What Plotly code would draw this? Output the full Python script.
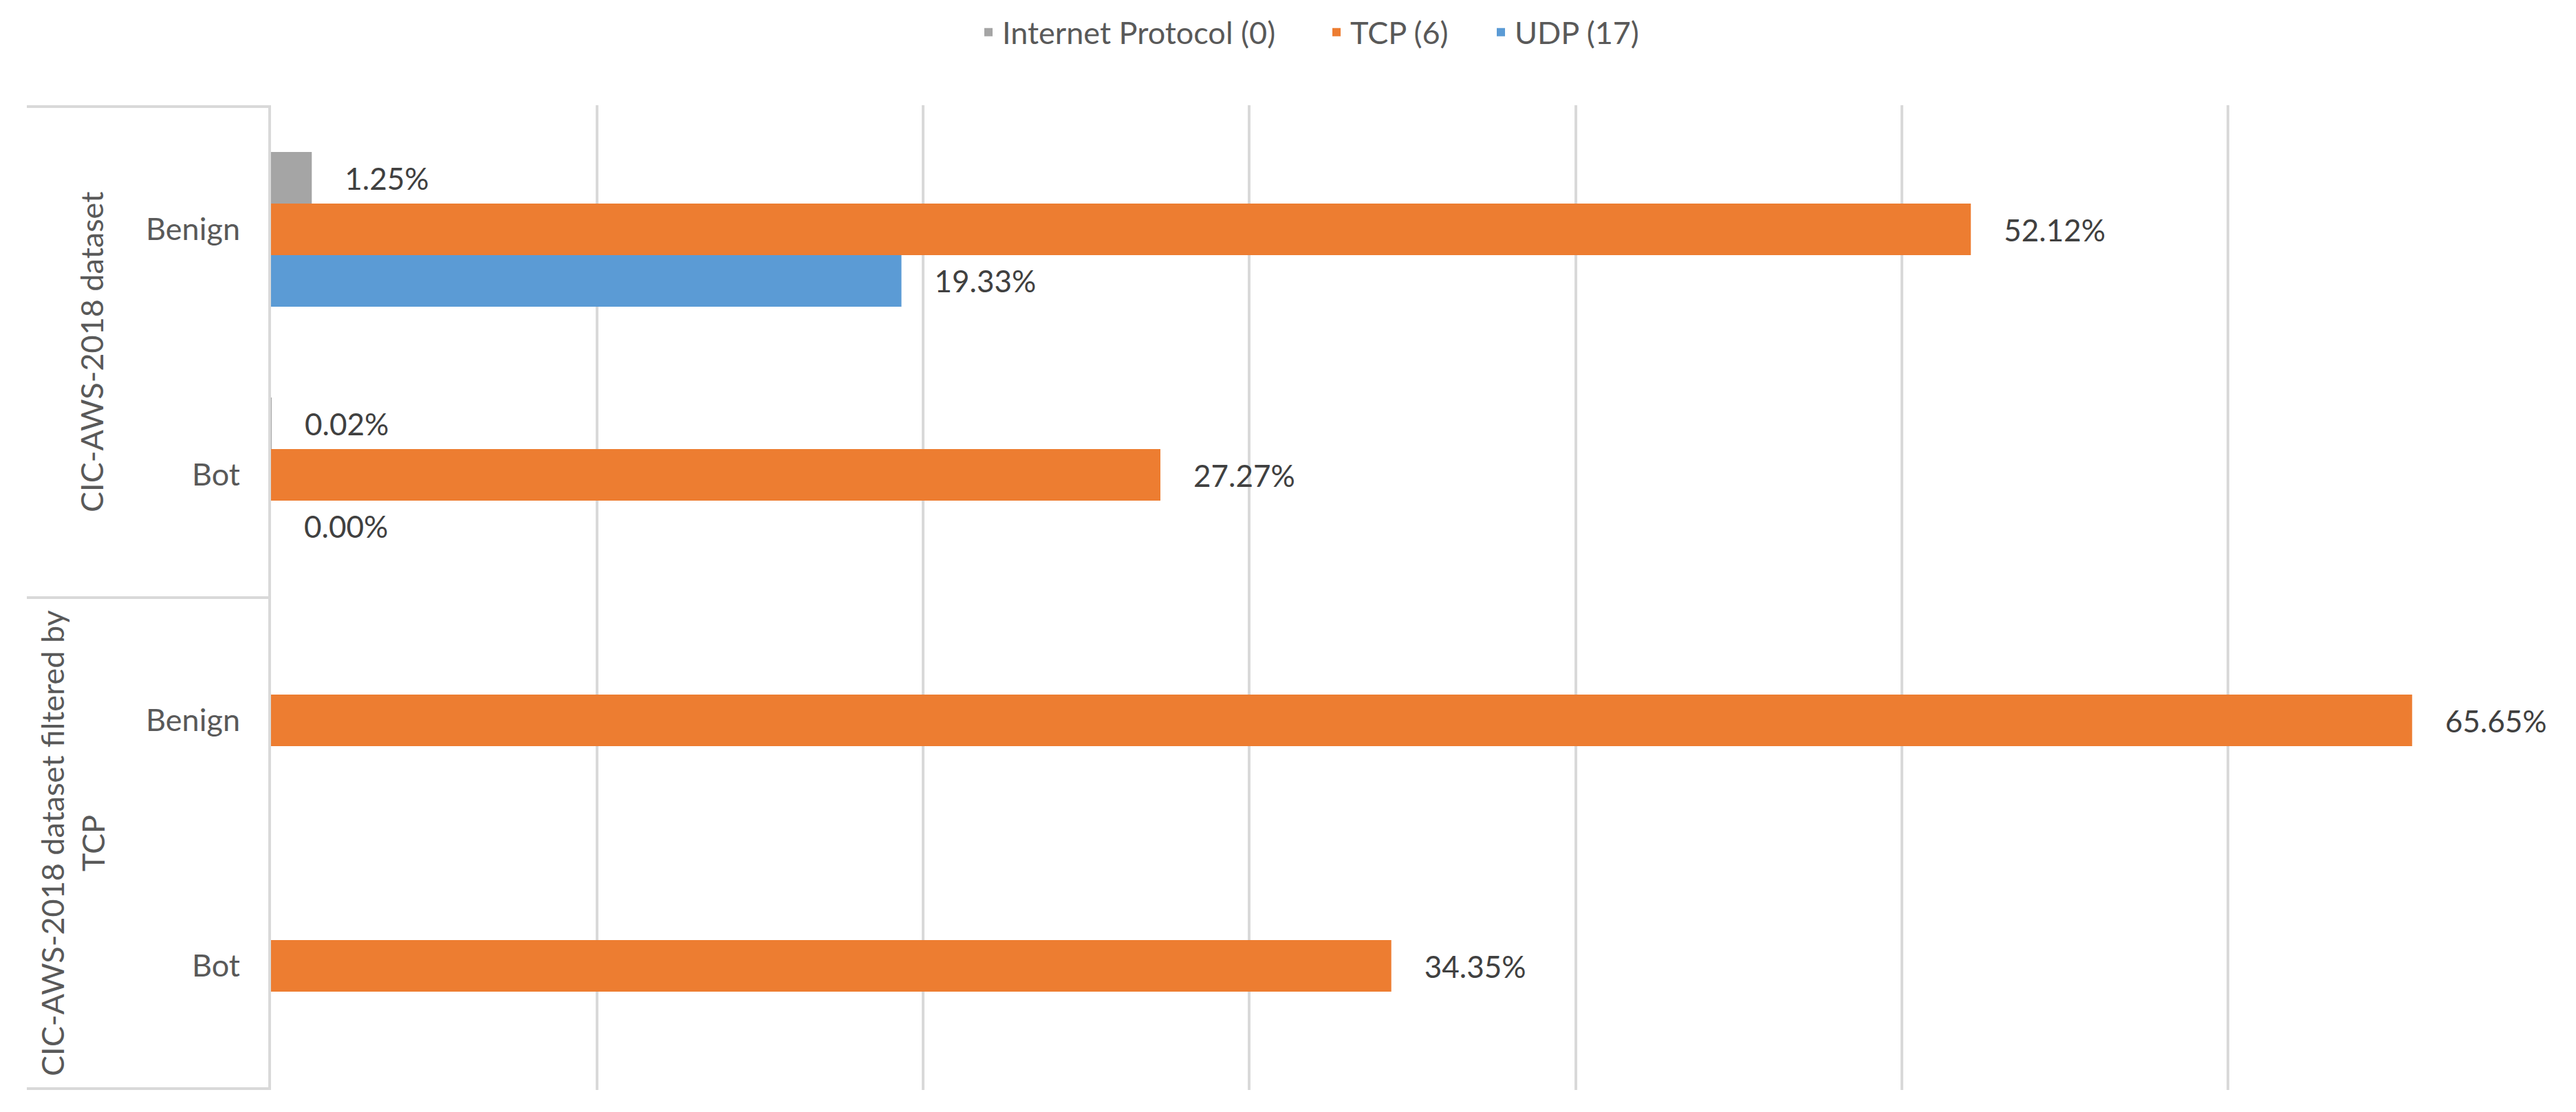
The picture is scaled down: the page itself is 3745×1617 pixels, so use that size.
import plotly.graph_objects as go

# ---------------- data ----------------
groups = ["CIC-AWS-2018 dataset", "CIC-AWS-2018 dataset filtered by TCP"]
group_labels = ["CIC-AWS-2018 dataset", "CIC-AWS-2018 dataset filtered by<br>TCP"]
classes = ["Benign", "Bot"]
series_names = ["Internet Protocol (0)", "TCP (6)", "UDP (17)"]
ip_values = [1.25, 0.02, None, None]
tcp_values = [52.12, 27.27, 65.65, 34.35]
udp_values = [19.33, 0.00, None, None]
x_tick_values = [0, 10, 20, 30, 40, 50, 60, 70]

# ---------------- style ----------------
FONT = "Lato, Calibri, Carlito, sans-serif"
FS = 45
FS_LABEL = 44
AXIS_GREY = "#595959"
LABEL_GREY = "#404040"
LINE_GREY = "#D9D9D9"
colors = ["#A5A5A5", "#ED7D31", "#5B9BD5"]

W, H = 3745, 1617
ML, MR, MT, MB = 394, 32, 152, 32
PW = W - ML - MR
PH = H - MT - MB

# legend symbol centres (px) in the reference
legend_sym_px = [1437, 1943, 2182]
legend_ids = ["legend", "legend2", "legend3"]

cat_keys = [f"{g}|{c}" for g in groups for c in classes]
cat_ticktext = [c for g in groups for c in classes]

fig = go.Figure()
for name, vals, col, lid in zip(series_names, [ip_values, tcp_values, udp_values], colors, legend_ids):
    fig.add_trace(go.Bar(
        name=name, y=cat_keys, x=vals, orientation="h",
        marker=dict(color=col, line=dict(width=0)),
        texttemplate="\u00a0\u00a0\u00a0\u00a0%{x:.2f}%",
        textposition="outside",
        textfont=dict(family=FONT, size=FS_LABEL, color=LABEL_GREY),
        cliponaxis=False,
        hoverinfo="skip",
        legend=lid,
    ))

annotations = []
shapes = []
n_per = len(classes)
for gi, lab in enumerate(group_labels):
    center = gi * n_per + (n_per - 1) / 2
    xpix = 133 if "<br>" not in lab else 105
    annotations.append(dict(
        text=lab, textangle=-90, showarrow=False,
        xref="paper", x=(xpix - ML) / PW, xanchor="center",
        yref="y", y=center, yanchor="middle",
        font=dict(family=FONT, size=FS, color=AXIS_GREY), align="center",
    ))
for b in range(len(groups) + 1):
    yb = b * n_per - 0.5
    shapes.append(dict(
        type="line", xref="paper", yref="y",
        x0=(39 - ML) / PW, x1=0, y0=yb, y1=yb,
        line=dict(color=LINE_GREY, width=4),
    ))

legend_common = dict(orientation="h", xanchor="left", yanchor="middle",
                     y=1 + (MT - 47) / PH,
                     font=dict(family=FONT, size=FS, color=AXIS_GREY),
                     bgcolor="rgba(0,0,0,0)", borderwidth=0)
legends = {}
for lid, sx in zip(legend_ids, legend_sym_px):
    legends[lid] = dict(legend_common, x=(sx - 20 - ML) / PW)

fig.update_layout(
    width=W, height=H,
    margin=dict(l=ML, r=MR, t=MT, b=MB, pad=0),
    paper_bgcolor="white", plot_bgcolor="white",
    barmode="group", bargap=0.37, bargroupgap=0,
    font=dict(family=FONT, size=FS, color=AXIS_GREY),
    xaxis=dict(range=[0, 70], tickvals=x_tick_values, showticklabels=False,
               showgrid=True, gridcolor=LINE_GREY, gridwidth=4,
               zeroline=False, showline=False, ticks=""),
    yaxis=dict(type="category", categoryorder="array", categoryarray=cat_keys,
               autorange="reversed", tickvals=cat_keys, ticktext=cat_ticktext,
               tickfont=dict(family=FONT, size=FS, color=AXIS_GREY),
               ticks="", ticklabelstandoff=32,
               showline=True, linecolor=LINE_GREY, linewidth=4,
               showgrid=False, zeroline=False),
    annotations=annotations, shapes=shapes,
    showlegend=True,
    **legends,
)

fig.write_html("out.html", config={"displayModeBar": False},
               post_script="document.body.style.margin='0';")
